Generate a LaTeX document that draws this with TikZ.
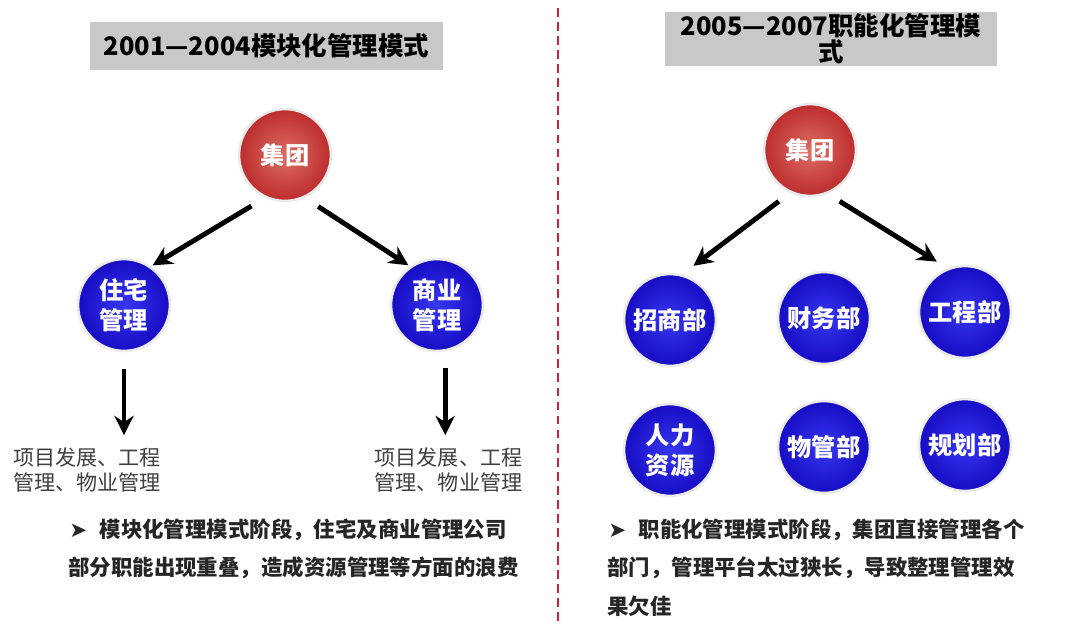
\documentclass[tikz,border=0pt]{standalone}
\usepackage{fontspec}
\setmainfont{Noto Sans CJK SC}
\newfontfamily\sym{DejaVu Sans}
\usetikzlibrary{arrows.meta}
\definecolor{boxgray}{RGB}{200,200,200}
\definecolor{lineRed}{RGB}{205,35,45}
\definecolor{redIn}{RGB}{222,110,100}
\definecolor{redOut}{RGB}{188,45,45}
\definecolor{blueIn}{RGB}{55,55,240}
\definecolor{blueOut}{RGB}{22,12,195}
\begin{document}
\begin{tikzpicture}[x=.02cm,y=-.02cm,line join=round,>={Stealth[length=11pt,width=11pt]},
	ball/.style={circle,minimum size=1.84cm,inner sep=0pt,draw=black!8,line width=1.5pt,text=white,align=center,font=\fontsize{13.8}{17}\selectfont\bfseries},
	redball/.style={ball,inner color=redIn,outer color=redOut},
	blueball/.style={ball,inner color=blueIn,outer color=blueOut},
	arr/.style={->,line width=2.8pt},
	title/.style={fill=boxgray,inner sep=0pt,align=center,font=\fontsize{14.5}{14.7}\selectfont\bfseries},
	small/.style={align=left,inner sep=0pt,text=black!75,font=\fontsize{12}{14.2}\selectfont},
	note/.style={anchor=west,inner sep=0pt,text=black!85,font=\fontsize{12.2}{15}\selectfont\bfseries}]
	\fill[white](0,0)rectangle(1080,626);
	\useasboundingbox(0,0)rectangle(1080,626);
	% titles and divider
	\path(266.5,46)node[title,minimum width=7.06cm,minimum height=.96cm](t1){2001—2004模块化管理模式};
	\path(831,39)node[title,minimum width=6.64cm,minimum height=1.08cm](t2){2005—2007职能化管理模\\式};
	\draw[lineRed,line width=1.3pt,dash pattern=on 5pt off 3pt](558,8)--(558,626);
	% left: modular
	\path(285,155)node[redball](jt){集团};
	\path(124,305)node[blueball](zz){住宅\\管理};
	\path(437,305)node[blueball](sy){商业\\管理};
	\path(87,470)node[small](zzt){项目发展、工程\\管理、物业管理};
	\path(448.5,470)node[small](syt){项目发展、工程\\管理、物业管理};
	\draw[arr,shorten <=9pt,shorten >=1pt](jt.245)--(zz.55);
	\draw[arr,shorten <=9pt,shorten >=1pt](jt.295)--(sy.125);
	\draw[arr,shorten <=9.5pt,shorten >=7pt](zz.south)--(zz.south|-zzt.north);
	\draw[arr,shorten <=9.5pt,shorten >=7pt](sy.-80)--(sy.-80|-syt.north);
	% right: functional
	\path(810,150)node[redball](jt2){集团};
	\foreach \x/\y/\n/\g in {670/320/zs/招商部,824/318/cw/财务部,965/312/gc/工程部,670/450/rl/{人力\\资源},824/447/wg/物管部,965/445/gh/规划部}
	\path(\x,\y)node[blueball](\n){\g};
	\draw[arr,shorten <=8pt,shorten >=8pt](jt2.245)--(zs.75);
	\draw[arr,shorten <=8pt,shorten >=7pt](jt2.292)--(gc.112);
	% notes
	\foreach \x/\y/\t in {69/530/{{\sym ➤}\hspace{7pt}模块化管理模式阶段，住宅及商业管理公司},68/568/部分职能出现重叠，造成资源管理等方面的浪费,
		608/530/{{\sym ➤}\hspace{7pt}职能化管理模式阶段，集团直接管理各个},607/568/部门，管理平台太过狭长，导致整理管理效,607/606/果欠佳}
	\path(\x,\y)node[note]{\t};
\end{tikzpicture}
\end{document}
